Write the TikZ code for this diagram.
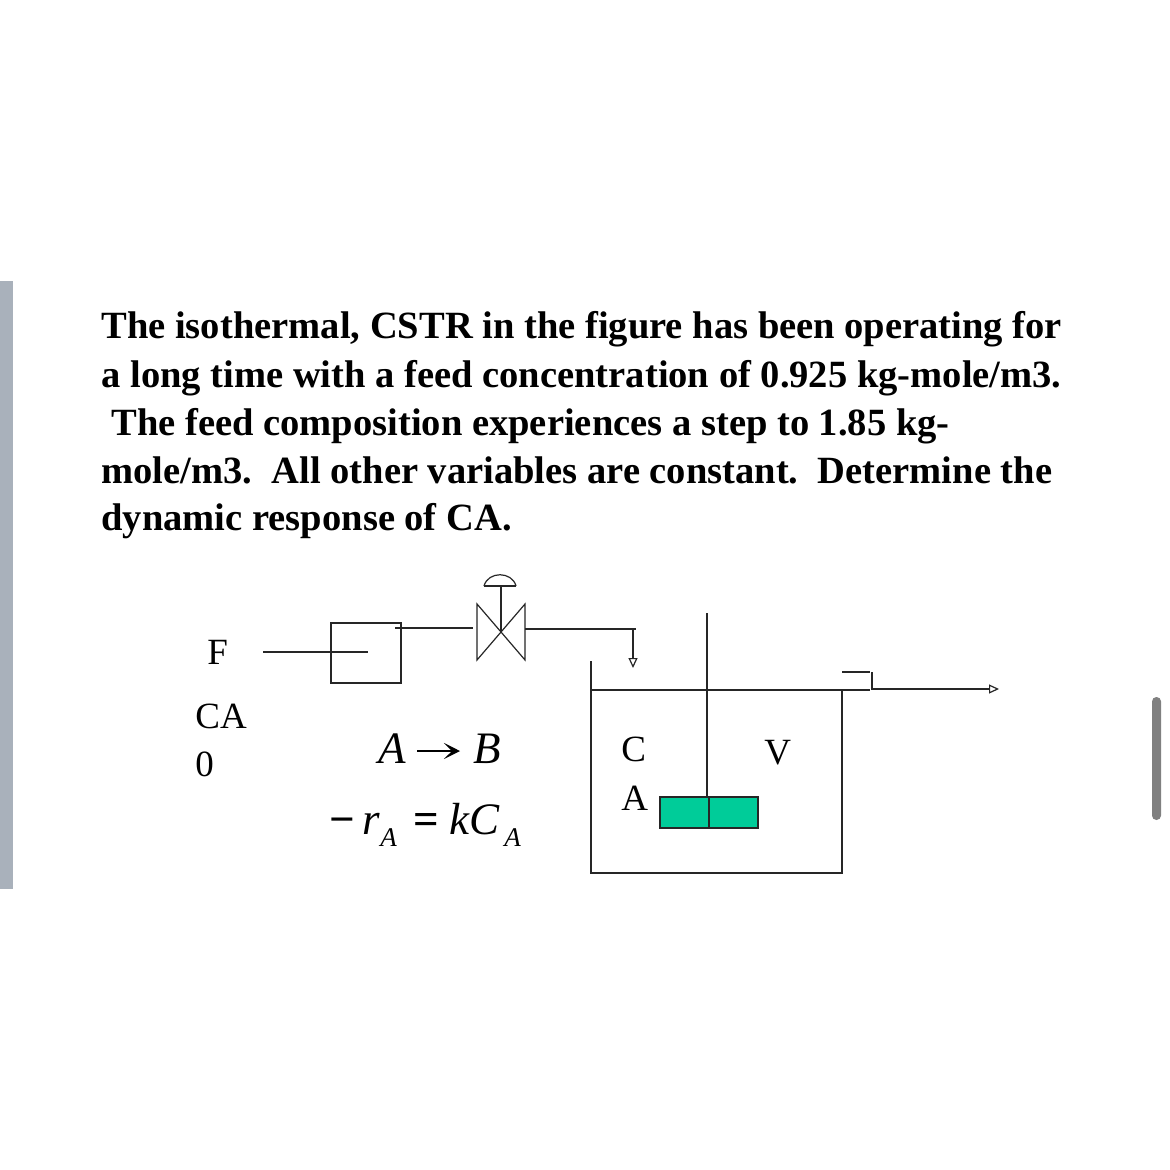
\documentclass[tikz,border=0pt]{standalone}
\usepackage{fontspec}
\setmainfont{Liberation Serif}
\usetikzlibrary{arrows.meta}

\definecolor{barGray}{HTML}{A9B1BB}
\definecolor{scrollGray}{HTML}{808080}
\definecolor{paddleGreen}{HTML}{00CC99}

\tikzset{
	pipe/.style={draw=black!85, line width=0.6pt},
	flow/.style={pipe, -{Triangle[open, length=5pt, width=4.5pt]}},
	para/.style={anchor=base west, inner sep=0pt, font=\fontsize{19.27}{19.27}\selectfont\bfseries},
	label/.style={anchor=base west, inner sep=0pt, font=\fontsize{18.5}{18.5}\selectfont},
	mathbig/.style={anchor=base west, inner sep=0pt, font=\fontsize{22.5}{22.5}\selectfont\itshape},
	mathsym/.style={anchor=base west, inner sep=0pt, font=\fontsize{22.5}{22.5}\selectfont\bfseries},
	mathsub/.style={anchor=base west, inner sep=0pt, font=\fontsize{13.5}{13.5}\selectfont\itshape},
}

\begin{document}
\begin{tikzpicture}[x=0.5pt, y=-0.5pt]
	\useasboundingbox[fill=white] (0,0) rectangle (1170,1170);
	\fill[barGray] (0,281) rectangle (13,889);
	\fill[scrollGray, rounded corners=2.2pt] (1152,697) rectangle (1161,820);

	% problem statement
	\node[para] (line1) at (101,338.5) {The isothermal, CSTR in the figure has been operating for};
	\node[para] (line2) at (101,387.5) {a long time with a feed concentration of 0.925 kg-mole/m3.};
	\node[para] (line3) at (111,435) {The feed composition experiences a step to 1.85 kg-};
	\node[para] (line4) at (101,483) {mole/m3.\ \ All other variables are constant.\ \ Determine the};
	\node[para] (line5) at (101,530.5) {dynamic response of CA.};

	% feed labels
	\node[label] (F) at (207,664) {F};
	\node[label] (CA) at (195,728) {CA};
	\node[label] (zero) at (195,776) {0};
	\node[label] (tankC) at (621,761) {C};
	\node[label] (tankA) at (621,810) {A};
	\node[label] (tankV) at (764,764) {V};

	% reaction
	\node[mathbig] (reactA) at (378,763) {A};
	\node[mathbig] (reactB) at (473,763) {B};
	\node[mathsym] (minus) at (329,834) {−};
	\node[mathbig] (rate) at (362,834) {r};
	\node[mathsub] (rateA) at (380,846) {A};
	\node[mathsym] (equals) at (413,834) {=};
	\node[mathbig] (kC) at (449,834) {kC};
	\node[mathsub] (kCA) at (504,846) {A};
	\coordinate (arrowL) at (417,751);
	\coordinate (arrowR) at (460,751);
	\draw[line width=1pt, -{Stealth[length=8pt, width=8pt, inset=4pt]}] (arrowL) -- (arrowR);

	% flow measurement box
	\node[draw=black!85, line width=0.75pt, minimum width=35pt, minimum height=30pt, inner sep=0pt] (box) at (366,653) {};
	\coordinate (feedIn) at (263,652);
	\coordinate (feedEnd) at (368,652);
	\draw[pipe] (feedIn) -- (feedEnd);

	% valve
	\coordinate (valveC) at (501,632);
	\coordinate (valveTL) at (477,604);
	\coordinate (valveBL) at (477,660);
	\coordinate (valveTR) at (525,604);
	\coordinate (valveBR) at (525,660);
	\coordinate (stemTop) at (501,587);
	\coordinate (domeL) at (484,586);
	\coordinate (domeR) at (516,586);
	\draw[pipe] (valveTL) -- (valveBR) -- (valveTR) -- (valveBL) -- cycle;
	\draw[pipe] (valveC) -- (stemTop);
	\draw[pipe] (domeL) -- (domeR);
	\draw[pipe] (domeL) .. controls (488,571) and (512,571) .. (domeR);

	% piping
	\coordinate (boxOut) at (395,628);
	\coordinate (valveIn) at (473,628);
	\coordinate (valveOut) at (525,629);
	\coordinate (pipeEnd) at (636,629);
	\coordinate (dropTop) at (633,629);
	\coordinate (dropEnd) at (633,668);
	\draw[pipe] (boxOut) -- (valveIn);
	\draw[pipe] (valveOut) -- (pipeEnd);
	\draw[flow] (dropTop) -- (dropEnd);

	% tank
	\coordinate (wallTop) at (591,661);
	\coordinate (wallLevel) at (591,690);
	\coordinate (wallBL) at (591,873);
	\coordinate (wallBR) at (842,873);
	\coordinate (wallTR) at (842,690);
	\coordinate (levelEnd) at (870,690);
	\draw[pipe] (wallTop) -- (wallBL) -- (wallBR) -- (wallTR);
	\draw[pipe] (wallLevel) -- (levelEnd);

	% weir and outlet
	\coordinate (weirL) at (842,672);
	\coordinate (weirLEnd) at (870,672);
	\coordinate (weirR) at (872,672);
	\coordinate (weirB) at (872,690);
	\coordinate (outStart) at (872,689);
	\coordinate (outEnd) at (999,689);
	\draw[pipe] (weirL) -- (weirLEnd);
	\draw[pipe] (weirR) -- (weirB);
	\draw[flow] (outStart) -- (outEnd);

	% stirrer
	\node[draw=black!85, fill=paddleGreen, line width=0.75pt, minimum width=49pt, minimum height=15.5pt, inner sep=0pt] (paddle) at (709,812.5) {};
	\coordinate (shaftTop) at (707,613);
	\draw[pipe] (shaftTop) -- (paddle.north -| shaftTop);
	\draw[pipe] (paddle.north) -- (paddle.south);
\end{tikzpicture}
\end{document}
